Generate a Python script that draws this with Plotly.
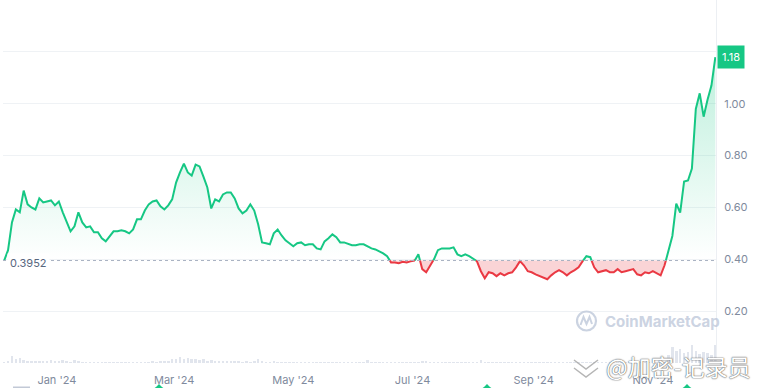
import plotly.graph_objects as go
import pandas as pd
import numpy as np

# ---------------- data ----------------
start_date = "2023-12-05"
step_days = 2
baseline = 0.3952
last_price = 1.18

prices = [
    0.3952, 0.435, 0.542, 0.592, 0.581, 0.665, 0.612, 0.600, 0.592, 0.635,
    0.619, 0.623, 0.627, 0.608, 0.623, 0.581, 0.546, 0.508, 0.527, 0.581,
    0.542, 0.523, 0.527, 0.504, 0.504, 0.481, 0.469, 0.488, 0.508, 0.508,
    0.512, 0.508, 0.500, 0.515, 0.554, 0.554, 0.588, 0.612, 0.623, 0.627,
    0.604, 0.592, 0.608, 0.631, 0.696, 0.735, 0.769, 0.735, 0.723, 0.765,
    0.758, 0.719, 0.677, 0.596, 0.631, 0.623, 0.650, 0.658, 0.658, 0.635,
    0.596, 0.577, 0.588, 0.612, 0.588, 0.535, 0.465, 0.462, 0.458, 0.500,
    0.515, 0.492, 0.473, 0.462, 0.450, 0.462, 0.465, 0.454, 0.458, 0.458,
    0.442, 0.438, 0.469, 0.481, 0.496, 0.485, 0.465, 0.465, 0.458, 0.454,
    0.454, 0.458, 0.458, 0.450, 0.442, 0.438, 0.431, 0.423, 0.412, 0.388,
    0.388, 0.385, 0.390, 0.388, 0.392, 0.393, 0.419, 0.362, 0.350, 0.377,
    0.400, 0.435, 0.442, 0.442, 0.442, 0.446, 0.419, 0.412, 0.419, 0.412,
    0.404, 0.392, 0.354, 0.327, 0.350, 0.346, 0.335, 0.346, 0.338, 0.346,
    0.350, 0.369, 0.393, 0.377, 0.354, 0.350, 0.342, 0.335, 0.331, 0.323,
    0.338, 0.350, 0.358, 0.350, 0.338, 0.350, 0.358, 0.369, 0.392, 0.412,
    0.408, 0.369, 0.350, 0.354, 0.358, 0.350, 0.350, 0.362, 0.350, 0.354,
    0.358, 0.362, 0.342, 0.338, 0.350, 0.346, 0.354, 0.346, 0.338, 0.377,
    0.431, 0.490, 0.615, 0.580, 0.700, 0.704, 0.750, 0.980, 1.040, 0.950,
    1.015, 1.070, 1.180,
]

volumes = [
    3, 5, 17, 9, 12, 7, 6, 5, 6, 4,
    5, 6, 8, 4, 5, 7, 4, 3, 8, 5,
    3, 3, 2, 3, 3, 2, 3, 2, 3, 2,
    3, 2, 3, 2, 3, 3, 2, 3, 4, 3,
    4, 5, 6, 9, 11, 16, 10, 12, 9, 11,
    8, 10, 6, 7, 5, 6, 5, 4, 4, 5,
    4, 3, 4, 3, 5, 9, 4, 3, 3, 4,
    3, 2, 3, 2, 2, 3, 2, 2, 2, 3,
    2, 2, 3, 2, 2, 2, 3, 2, 2, 2,
    2, 3, 2, 7, 3, 2, 3, 2, 2, 3,
    2, 3, 2, 2, 3, 2, 3, 5, 4, 3,
    2, 3, 2, 3, 2, 3, 2, 2, 3, 2,
    3, 2, 8, 3, 2, 2, 2, 2, 2, 2,
    2, 2, 3, 2, 2, 2, 2, 2, 2, 2,
    2, 2, 2, 2, 2, 2, 2, 3, 2, 2,
    2, 2, 2, 2, 2, 2, 2, 2, 2, 2,
    2, 2, 2, 2, 2, 2, 2, 2, 2, 3,
    20, 40, 30, 35, 25, 28, 45, 30, 22, 28,
    25, 20, 45,
]

y_tick_vals = [0.0, 0.2, 0.4, 0.6, 0.8, 1.0, 1.2, 1.4]
y_tick_text = ["", "0.20", "0.40", "0.60", "0.80", "1.00", "", ""]
x_range = ["2023-12-04 10:00", "2024-12-03 08:00"]

GREEN = "#16c784"
RED = "#ea3943"
GRID = "#eff2f5"
FONT = "Inter"

dates = pd.date_range(start_date, periods=len(prices), freq=f"{step_days}D")

# insert baseline crossings so green/red segments meet exactly
xs, ys = [], []
for k in range(len(prices)):
    if k > 0:
        p0, p1 = prices[k - 1], prices[k]
        if (p0 - baseline) * (p1 - baseline) < 0:
            t = (baseline - p0) / (p1 - p0)
            xs.append(dates[k - 1] + (dates[k] - dates[k - 1]) * t)
            ys.append(baseline)
    xs.append(dates[k])
    ys.append(prices[k])
ys = np.array(ys)
up = np.maximum(ys, baseline)
dn = np.minimum(ys, baseline)
green_line = [float(v) if v >= baseline else None for v in ys]
red_line = [float(v) if v <= baseline else None for v in ys]
base_arr = [baseline] * len(xs)

fig = go.Figure()

fig.add_trace(go.Bar(
    x=dates, y=volumes, yaxis="y2",
    marker=dict(color="rgba(200,208,222,0.55)", line=dict(width=0)),
    width=step_days * 86400000 * 0.65, hoverinfo="skip", showlegend=False,
))

fig.add_trace(go.Scatter(x=xs, y=base_arr, mode="lines", line=dict(width=0),
                         hoverinfo="skip", showlegend=False))
fig.add_trace(go.Scatter(
    x=xs, y=up, mode="lines", line=dict(width=0), fill="tonexty",
    fillgradient=dict(type="vertical",
                      colorscale=[[0, "rgba(22,199,132,0.0)"], [1, "rgba(22,199,132,0.28)"]],
                      start=baseline, stop=last_price),
    hoverinfo="skip", showlegend=False))
fig.add_trace(go.Scatter(x=xs, y=base_arr, mode="lines", line=dict(width=0),
                         hoverinfo="skip", showlegend=False))
fig.add_trace(go.Scatter(
    x=xs, y=dn, mode="lines", line=dict(width=0), fill="tonexty",
    fillcolor="rgba(234,57,67,0.22)", hoverinfo="skip", showlegend=False))

fig.add_trace(go.Scatter(x=xs, y=green_line, mode="lines",
                         line=dict(color=GREEN, width=2), connectgaps=False,
                         hoverinfo="skip", showlegend=False))
fig.add_trace(go.Scatter(x=xs, y=red_line, mode="lines",
                         line=dict(color=RED, width=2), connectgaps=False,
                         hoverinfo="skip", showlegend=False))

# dotted baseline
fig.add_shape(type="line", xref="paper", x0=0, x1=1, yref="y", y0=baseline, y1=baseline,
              line=dict(color="#a9b2c3", width=1, dash="dot"), layer="above")

# watermark logo (CoinMarketCap)
W, PL, PB = 713.0, 3.0, 363.0
def px(x):
    return (x - PL) / W
def py(y):
    return (PB - y) / PB

fig.add_shape(type="circle", xref="paper", yref="paper",
              x0=px(577), x1=px(596), y0=py(330.5), y1=py(311.5),
              line=dict(color="rgba(190,200,218,0.8)", width=2.2))
fig.add_shape(type="path", xref="paper", yref="paper",
              path=f"M {px(580.5)},{py(325)} L {px(583.5)},{py(317)} L {px(586.5)},{py(324)} "
                   f"L {px(589.5)},{py(317)} L {px(592)},{py(324)}",
              line=dict(color="rgba(190,200,218,0.8)", width=2))

# weibo-like chevrons beside the CJK watermark
for dy in (0, 8):
    fig.add_shape(type="path", xref="paper", yref="paper",
                  path=f"M {px(574)},{py(360 + dy)} L {px(586)},{py(369 + dy)} L {px(598)},{py(360 + dy)}",
                  line=dict(color="rgba(150,150,150,0.7)", width=1.5))

# event markers peeking at the bottom edge
for cx in (159, 487, 687):
    fig.add_shape(type="path", xref="paper", yref="paper",
                  path=f"M {px(cx - 10)},{py(392)} L {px(cx - 3)},{py(387)} L {px(cx)},{py(384)} "
                       f"L {px(cx + 3)},{py(387)} L {px(cx + 10)},{py(392)} Z",
                  fillcolor=GREEN, line=dict(width=0))
fig.add_shape(type="rect", xref="paper", yref="paper",
              x0=px(13), x1=px(30), y0=py(392), y1=py(386.5),
              fillcolor="#c2c9d6", line=dict(width=0))

fig.add_annotation(xref="paper", x=0, xanchor="left", xshift=4, y=baseline, yref="y",
                   yshift=-2, text=f"{baseline:.4f}", showarrow=False,
                   bgcolor="white", borderpad=2,
                   font=dict(family=FONT, size=11, color="#58667e"))
fig.add_annotation(xref="paper", x=1, xanchor="left", xshift=1, y=last_price, yref="y",
                   text=f"{last_price:.2f}", showarrow=False,
                   bgcolor=GREEN, borderpad=4,
                   font=dict(family=FONT, size=11, color="white"))
fig.add_annotation(xref="paper", yref="paper", x=px(603), y=py(321), xanchor="left",
                   yanchor="middle", text="<b>CoinMarketCap</b>", showarrow=False,
                   font=dict(family=FONT, size=15, color="rgba(190,200,218,0.8)"))
fig.add_annotation(xref="paper", yref="paper", x=px(604), y=py(366), xanchor="left",
                   yanchor="middle", text="@加密-记录员", showarrow=False,
                   font=dict(family="Noto Sans CJK SC", size=23, color="white",
                             shadow="0px 0px 1.5px #555, 0px 0px 1px #555"))

fig.update_layout(
    width=762, height=388,
    margin=dict(l=3, r=46, t=0, b=25),
    paper_bgcolor="white", plot_bgcolor="white",
    showlegend=False, bargap=0, hovermode=False,
    xaxis=dict(type="date", range=x_range, dtick="M2", tick0="2024-01-01",
               tickformat="%b '%y", showgrid=False, zeroline=False, showline=False,
               ticks="outside", ticklen=7, tickcolor="rgba(0,0,0,0)",
               tickfont=dict(family=FONT, size=11, color="#808a9d")),
    yaxis=dict(side="right", range=[0, 1.4], tickvals=y_tick_vals, ticktext=y_tick_text,
               showgrid=True, gridcolor=GRID, gridwidth=1, zeroline=False,
               showline=True, linecolor="#eceff3", mirror=False,
               ticks="outside", ticklen=5, tickcolor="rgba(0,0,0,0)",
               tickfont=dict(family=FONT, size=11, color="#808a9d")),
    yaxis2=dict(overlaying="y", range=[0, 900], visible=False),
)

fig.write_html(
    "out.html",
    config={"displayModeBar": False},
    post_script="document.body.style.margin='0';document.body.style.overflow='hidden';",
)
